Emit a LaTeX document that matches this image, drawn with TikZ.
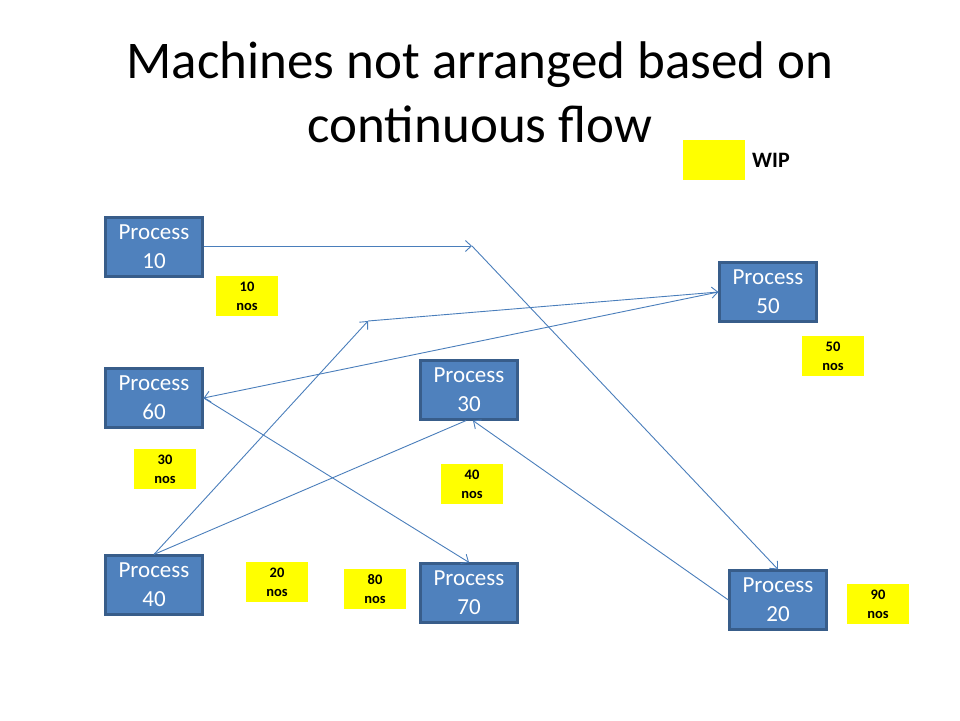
\documentclass[tikz,border=0pt]{standalone}
\usepackage{fontspec}
\setmainfont{Carlito}
\usetikzlibrary{arrows.meta}
\definecolor{procfill}{HTML}{4F81BD}
\definecolor{procdraw}{HTML}{385D8A}
\definecolor{linecol}{HTML}{4A7EBB}
\definecolor{wipyellow}{HTML}{FFFF00}
\begin{document}
\begin{tikzpicture}[x=1pt,y=-1pt,
  procbox/.style={draw=procdraw,line width=2.2pt,fill=procfill,text=white,
    minimum width=97pt,minimum height=59pt,inner sep=0pt,align=center,
    font=\fontsize{23}{29}\selectfont},
  wipbox/.style={fill=wipyellow,minimum width=62pt,minimum height=40pt,inner sep=0pt,
    align=center,font=\fontsize{14.5}{19}\selectfont\bfseries},
  flow/.style={draw=linecol,line width=0.9pt,-{Straight Barb[length=6pt,width=11pt]}},
  plain/.style={draw=linecol,line width=0.9pt}]
\useasboundingbox (0,0) rectangle (960,720);
\node[align=center,font=\fontsize{53}{64}\selectfont] (title) at (480,92)
  {Machines not arranged based on\\continuous flow};
\node[procbox] (p10) at (154,247) {Process\\10};
\node[procbox] (p60) at (154,398) {Process\\60};
\node[procbox] (p40) at (154,585) {Process\\40};
\node[procbox] (p30) at (469,390) {Process\\30};
\node[procbox] (p70) at (469,593) {Process\\70};
\node[procbox] (p50) at (768,292) {Process\\50};
\node[procbox] (p20) at (778,600) {Process\\20};
\node[wipbox] (w10) at (247,296) {10\\nos};
\node[wipbox] (w50) at (833,356) {50\\nos};
\node[wipbox] (w30) at (165,469) {30\\nos};
\node[wipbox] (w40) at (472,484) {40\\nos};
\node[wipbox] (w20) at (277,582) {20\\nos};
\node[wipbox] (w80) at (375,589) {80\\nos};
\node[wipbox] (w90) at (878,604) {90\\nos};
\node[wipbox] (legend) at (714,160) {};
\node[anchor=west,inner sep=0pt,font=\fontsize{22}{24}\selectfont\bfseries] (wiplabel) at (752,160) {WIP};
\coordinate (c1) at (472,246);
\coordinate (c2) at (368,321);
\draw[flow] (p10.east |- c1) -- (c1);
\draw[flow] (c1) -- (p20.north);
\draw[flow] (p40.north) -- (c2);
\draw[flow] (c2) -- (p50.west);
\draw[flow] (p50.west) -- (p60.east);
\draw[flow] (p60.east) -- (p70.north);
\draw[plain] (p40.north) -- ([xshift=-3pt]p30.south);
\draw[flow] (p20.west) -- ([xshift=4pt]p30.south);
\end{tikzpicture}
\end{document}
